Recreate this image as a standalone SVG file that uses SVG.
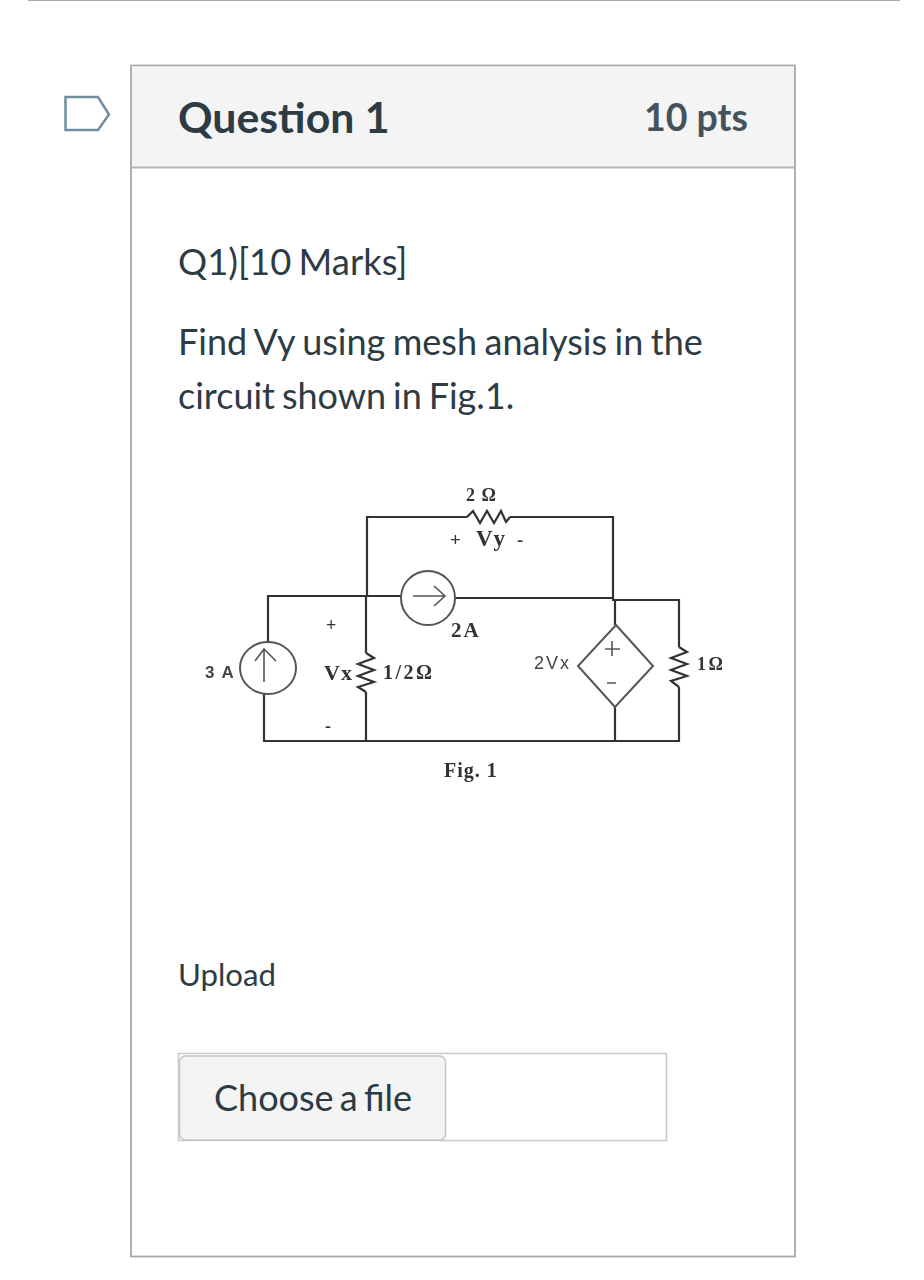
<svg xmlns="http://www.w3.org/2000/svg" width="924" height="1280" viewBox="0 0 924 1280">
<defs><filter id="soft" x="-5%" y="-5%" width="110%" height="110%"><feGaussianBlur stdDeviation="0.45"/></filter></defs>
<style>
.ui{font-family:Lato,"Open Sans",sans-serif;fill:#2d3b45}
.w{fill:none;stroke:#333;stroke-width:2.200}
.s{fill:none;stroke:#555;stroke-width:1.600}
.c{font-family:"Liberation Serif",serif;fill:#333}
.a{font-family:"Liberation Sans",sans-serif;fill:#444}
.b{filter:url(#soft)}
</style>
<rect width="924" height="1280" fill="#fff"/>
<line x1="28" y1="0" x2="900" y2="0" stroke="#aaa" stroke-width="2"/>
<g id="flag"><path d="M65.500 97H98L109 114.500L98 130H65.500Z" fill="#fff" stroke="#6f8fa0" stroke-width="2.500"/></g>
<g id="card">
<rect x="131" y="65.500" width="664" height="1191" fill="#fff" stroke="#a8a8a8" stroke-width="1.800"/>
<rect x="132" y="66.500" width="662" height="101" fill="#f4f4f4"/>
<line x1="132" y1="167.500" x2="794" y2="167.500" stroke="#b5b5b5" stroke-width="1.800"/>
<text class="ui" x="178" y="133" font-size="42.800" font-weight="700">Question 1</text>
<text class="ui" x="748" y="131" font-size="37.500" font-weight="700" text-anchor="end" style="fill:#44525c">10 pts</text>
<text class="ui" x="178" y="275" font-size="36.400" word-spacing="-2">Q1)[10 Marks]</text>
<text class="ui" x="178" y="355" font-size="36" word-spacing="-1.700">Find Vy using mesh analysis in the</text>
<text class="ui" x="178" y="409" font-size="36" word-spacing="-2.300">circuit shown in Fig.1.</text>
<text class="ui" x="178" y="986" font-size="31.200">Upload</text>
</g>
<g id="connectors" class="b">
<path class="w" d="M367 595V517H467M510 517H613V599"/>
<path class="w" d="M268 642V596H401M455 598H613V600H679V647M679 687V741H264V693"/>
<path class="w" d="M366 596V653M366 692V741M615 600V625M615 707V741"/>
</g>
<g id="r-half" class="b"><path class="w" d="M366 653L374 658L358 664L374 670L358 676L374 682L358 687L366 692"/>
<text class="c" x="383" y="679" font-size="20" letter-spacing="2.500" font-weight="700">1/2Ω</text></g>
<g id="r-two" class="b"><path class="w" d="M467 517L473 511L480 523L487 511L494 523L501 511L506 522L510 517"/>
<text class="c" x="466" y="501" font-size="18" letter-spacing="1" font-weight="700">2 Ω</text>
<text class="c" x="450" y="546" font-size="19" font-weight="700">+</text>
<text class="c" x="476" y="546" font-size="23" letter-spacing="3" font-weight="700">Vy</text>
<text class="c" x="517" y="546" font-size="19" font-weight="700">-</text></g>
<g id="r-one" class="b"><path class="w" d="M679 647L687 652L671 658L687 664L671 670L687 676L671 681L679 687"/>
<text class="c" x="697" y="670" font-size="18" letter-spacing="2.500" font-weight="700">1Ω</text></g>
<g id="src-2a" class="b"><circle cx="428" cy="598" r="27" fill="#fff" stroke="#555" stroke-width="2"/>
<path class="s" d="M413 596H445M434 586L445 596L434 606"/>
<text class="c" x="451" y="637" font-size="21" letter-spacing="2" font-weight="700">2A</text></g>
<g id="src-3a" class="b"><ellipse cx="268" cy="668" rx="28" ry="26" fill="#fff" stroke="#555" stroke-width="2"/>
<path class="s" d="M264 682V649M255 661L264 649L276 661"/>
<text class="a" x="205" y="678" font-size="17" letter-spacing="1.500" font-weight="700">3 A</text></g>
<g id="vx" class="b"><text class="c" x="326" y="631" font-size="18" font-weight="700">+</text>
<text class="c" x="324" y="680" font-size="22" letter-spacing="1" font-weight="700">Vx</text>
<text class="c" x="325" y="732" font-size="18" font-weight="700">-</text></g>
<g id="src-dep" class="b"><path d="M616 625L653 666L615 707L578 666Z" fill="#fff" stroke="#555" stroke-width="2"/>
<path class="s" d="M605 649H620M612 641V656M607 683H616"/>
<text class="a" x="534" y="669" font-size="18" letter-spacing="2">2Vx</text></g>
<text class="c b" x="444" y="777" font-size="20" letter-spacing="1" font-weight="700">Fig. 1</text>
<g id="file-input">
<rect x="178.500" y="1053.500" width="488" height="87" fill="#fff" stroke="#c6cbce" stroke-width="1.500"/>
<rect x="179.500" y="1056" width="266" height="84" rx="6" fill="#f4f4f4" stroke="#c2c6c9" stroke-width="1.500"/>
<text class="ui" x="214" y="1111" font-size="36" word-spacing="-3">Choose a file</text>
</g>
</svg>
